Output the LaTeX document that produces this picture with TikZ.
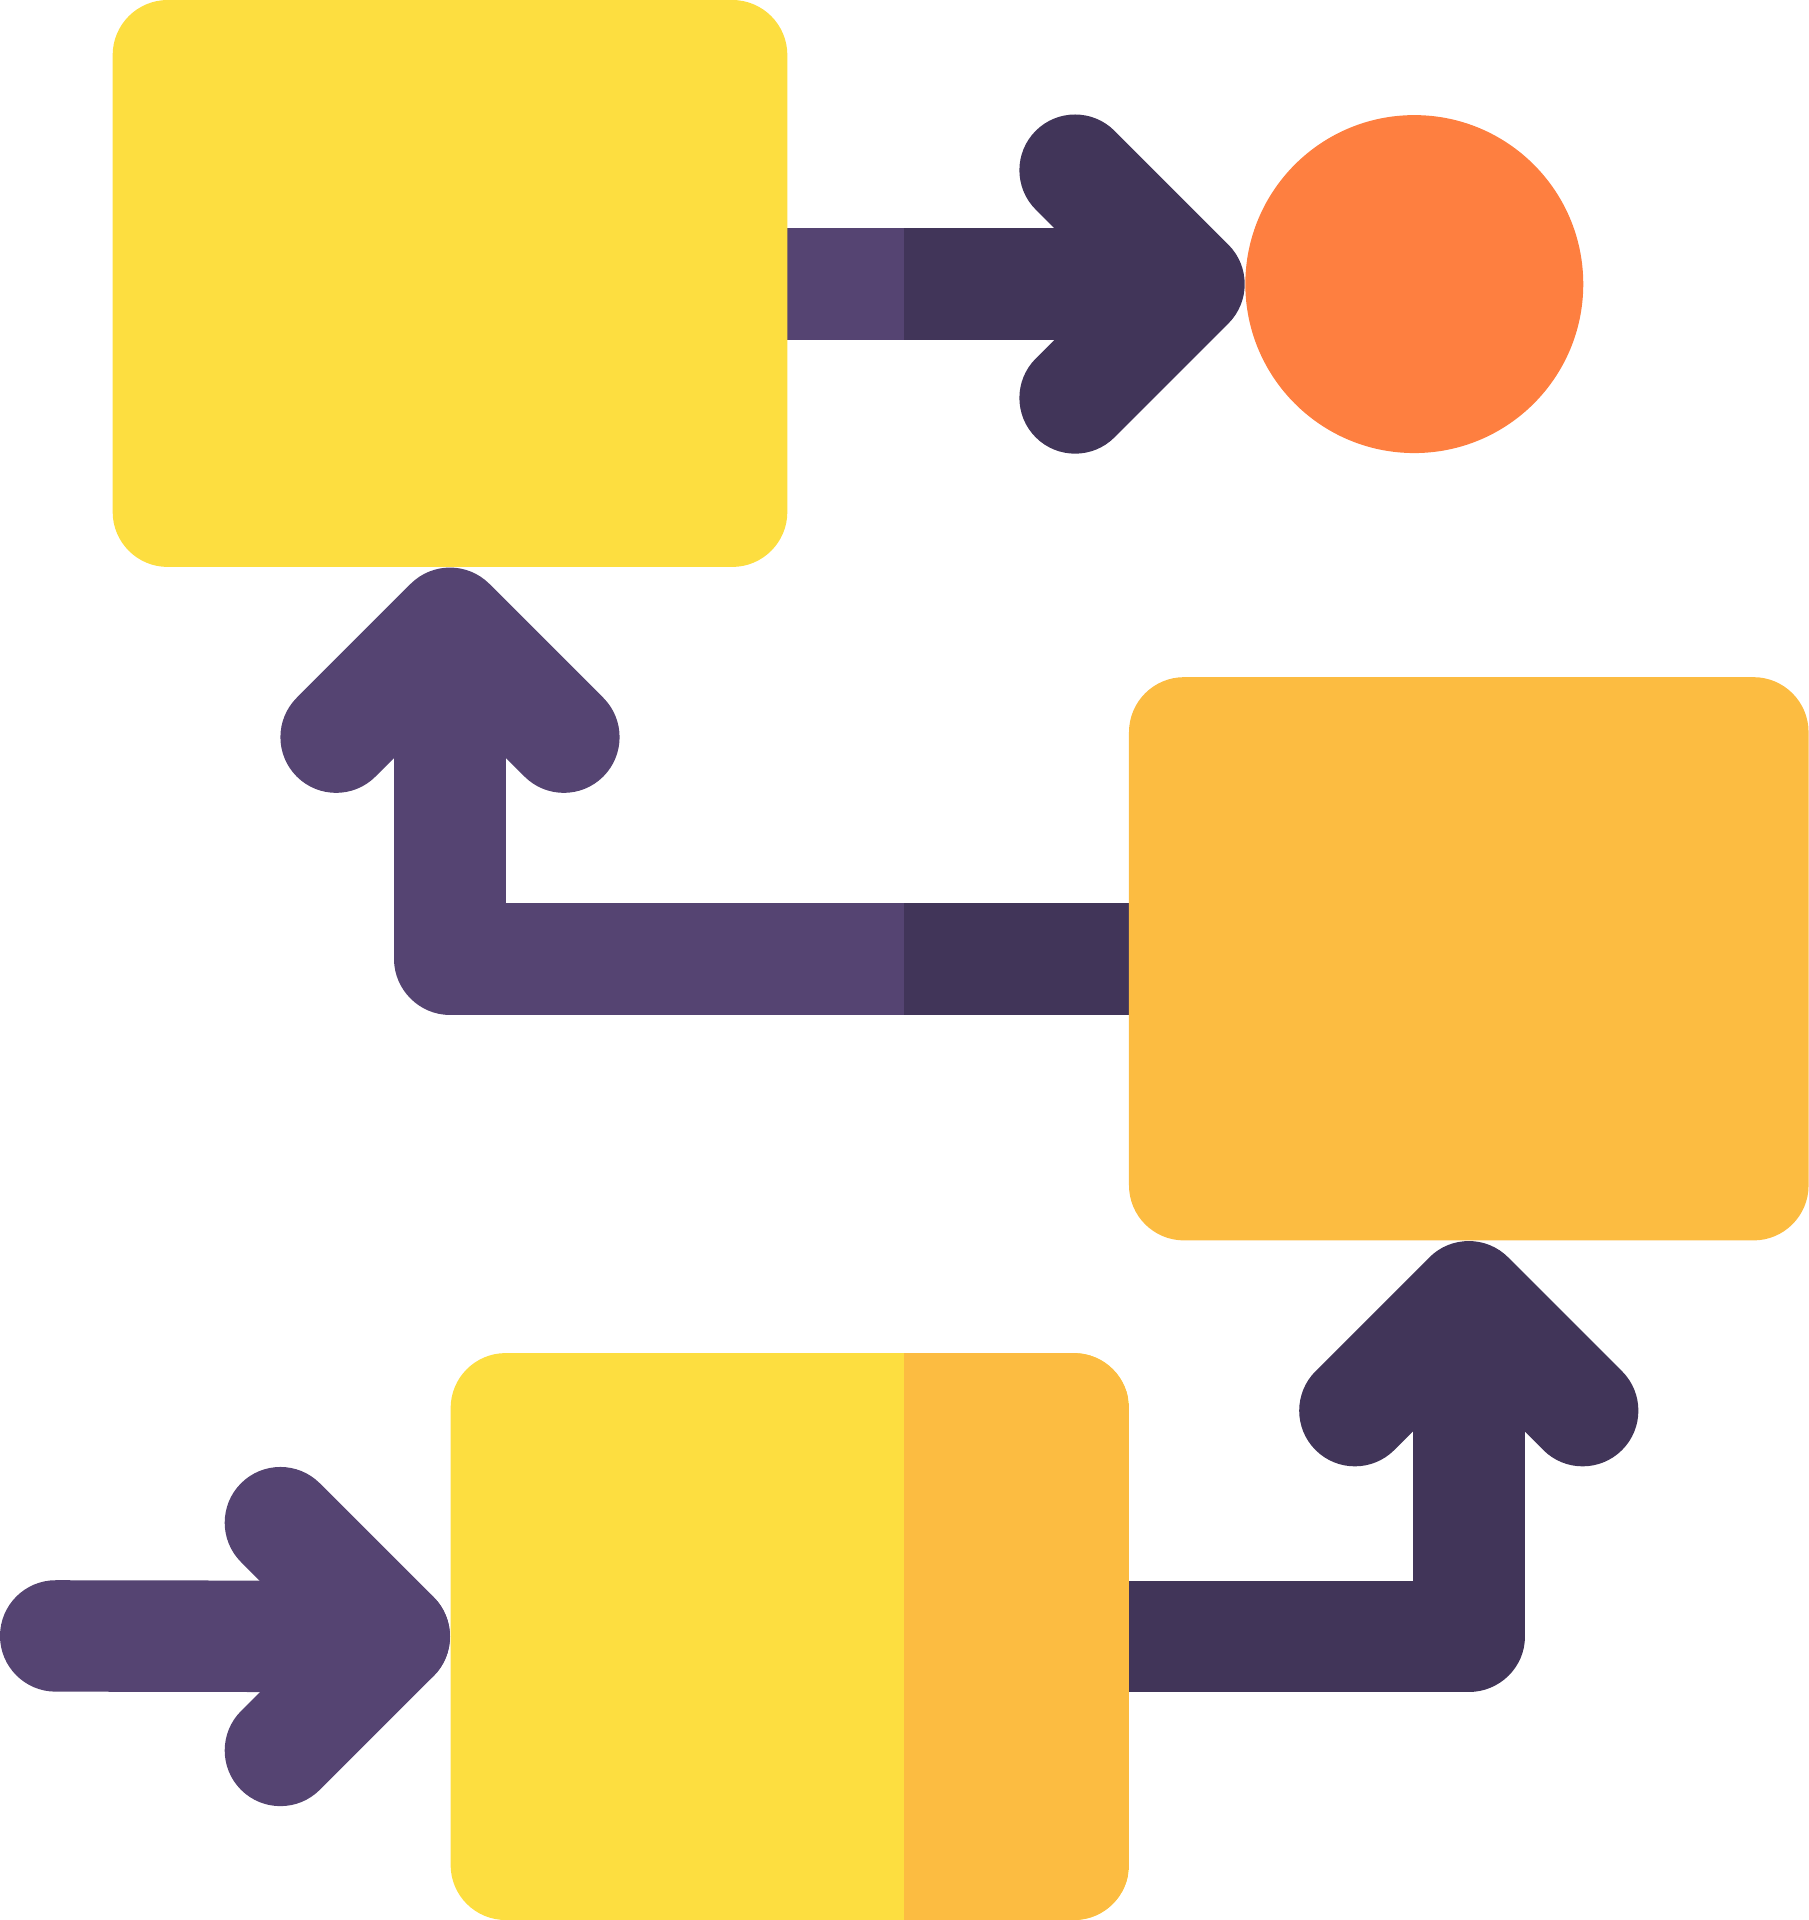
\documentclass[tikz,border=0pt]{standalone}
\usetikzlibrary{calc,backgrounds}

\definecolor{boxyellow}{RGB}{253,222,64}
\definecolor{boxorange}{RGB}{252,188,65}
\definecolor{endorange}{RGB}{254,127,64}
\definecolor{purplelight}{RGB}{85,68,114}
\definecolor{purpledark}{RGB}{65,53,89}

\begin{document}
\begin{tikzpicture}[x=1pt,y=-1pt,
        block/.style={rectangle,rounded corners=45pt,inner sep=0pt,outer sep=0pt,
            minimum width=#1,minimum height=463pt},
        flow/.style={line width=91pt,line join=round},
        chev/.style={line width=91pt,line cap=round,line join=round}]
    \useasboundingbox (0,0) rectangle (1477,1568);

    % blocks
    \node[block=551pt,fill=boxyellow] (start) at (367.5,231.5) {};
    \node[circle,fill=endorange,minimum size=276pt,inner sep=0pt,outer sep=0pt] (goal) at (1155,232) {};
    \node[block=555pt,minimum height=460pt,fill=boxorange] (check) at (1199.5,783) {};
    \node[block=554pt,fill=boxyellow,
        path picture={\fill[boxorange,sharp corners] ([xshift=93pt]path picture bounding box.south)
            rectangle (path picture bounding box.north east);}] (proc) at (645,1336.5) {};

    \begin{scope}[on background layer]
        % start -> goal
        \coordinate (tipA) at ([xshift=-46pt]goal.west);
        \coordinate (splitA) at (738,232);
        \draw[flow,purplelight] (start.east |- splitA) -- (splitA);
        \draw[flow,purpledark] (splitA) -- (tipA);
        \draw[chev,purpledark] ($(tipA)+(-93,-93)$) -- (tipA) -- ++(-93,93);

        % check -> start
        \coordinate (tipB) at ([yshift=-46pt]start.south);
        \coordinate (splitB) at (738,783);
        \draw[flow,purpledark] (check.west) -- (splitB);
        \draw[flow,purplelight] (splitB) -- (tipB |- splitB) -- (tipB);
        \draw[chev,purplelight] ($(tipB)+(-93,93)$) -- (tipB) -- ++(93,93);

        % entry -> proc
        \coordinate (entry) at (45.5,1336);
        \coordinate (tipC) at ([xshift=-46pt]proc.west);
        \draw[flow,purplelight,line cap=round] (entry) -- (tipC);
        \draw[chev,purplelight] ($(tipC)+(-93,-93)$) -- (tipC) -- ++(-93,93);

        % proc -> check
        \coordinate (tipD) at ([yshift=-46pt]check.south);
        \draw[flow,purpledark] (proc.east) -- (tipD |- proc.east) -- (tipD);
        \draw[chev,purpledark] ($(tipD)+(-93,93)$) -- (tipD) -- ++(93,93);
    \end{scope}
\end{tikzpicture}
\end{document}
